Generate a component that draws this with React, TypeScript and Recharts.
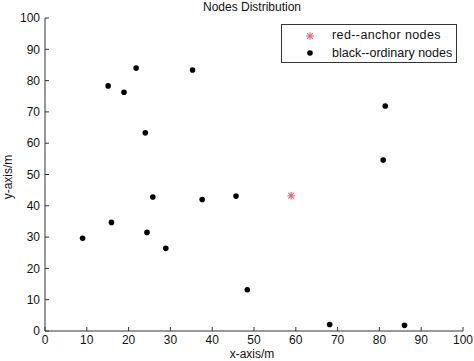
import React from 'react';
import { ScatterChart, Scatter, XAxis, YAxis } from 'recharts';

// node positions (metres)
const ordinaryX = [15.1, 18.9, 21.8, 35.3, 81.4, 24.0, 80.9, 25.8, 37.6, 45.7, 15.9, 24.4, 9.0, 28.9, 48.4, 68.1, 86.0];
const ordinaryY = [78.3, 76.3, 84.0, 83.4, 71.9, 63.3, 54.6, 42.8, 42.0, 43.1, 34.7, 31.5, 29.6, 26.4, 13.2, 2.1, 1.8];
const anchorX = [58.9];
const anchorY = [43.2];

const xTicks = [0, 10, 20, 30, 40, 50, 60, 70, 80, 90, 100];
const yTicks = [0, 10, 20, 30, 40, 50, 60, 70, 80, 90, 100];

const ordinary = ordinaryX.map((x, i) => ({ x, y: ordinaryY[i] }));
const anchors = anchorX.map((x, i) => ({ x, y: anchorY[i] }));

const font = '"Liberation Sans", Arial, sans-serif';
const frame = '#333';

const Dot = (p: any) => <circle cx={p.cx} cy={p.cy} r={2.8} fill="#000" />;

const Star = (p: any) => {
  const s = 3.8;
  const d = s * 0.75;
  return (
    <g stroke="#ee5a6e" strokeWidth={1.1}>
      <line x1={p.cx - s} y1={p.cy} x2={p.cx + s} y2={p.cy} />
      <line x1={p.cx} y1={p.cy - s} x2={p.cx} y2={p.cy + s} />
      <line x1={p.cx - d} y1={p.cy - d} x2={p.cx + d} y2={p.cy + d} />
      <line x1={p.cx - d} y1={p.cy + d} x2={p.cx + d} y2={p.cy - d} />
    </g>
  );
};

const LegendBox = () => (
  <div
    style={{
      position: 'absolute',
      left: 281,
      top: 24,
      width: 174,
      height: 37,
      border: `1px solid ${frame}`,
      background: '#fff',
      fontFamily: font,
      fontSize: 12.5,
      color: '#111',
    }}
  >
    <svg width={20} height={37} style={{ position: 'absolute', left: 18, top: 0 }}>
      <Star cx={10} cy={11} />
      <circle cx={10} cy={28} r={2.8} fill="#000" />
    </svg>
    <div style={{ position: 'absolute', left: 50, top: 3, letterSpacing: 0.4 }}>red--anchor nodes</div>
    <div style={{ position: 'absolute', left: 50, top: 21 }}>black--ordinary nodes</div>
  </div>
);

export default function App() {
  const tickStyle = { fontSize: 12, fill: '#111', fontFamily: font };
  return (
    <div style={{ position: 'absolute', left: 0, top: 0, width: 474, height: 361, background: '#fff', overflow: 'hidden' }}>
      <ScatterChart width={474} height={361} margin={{ top: 18, right: 11, bottom: 0, left: 0 }}>
        <XAxis
          dataKey="x"
          type="number"
          domain={[0, 100]}
          ticks={xTicks}
          height={30}
          tickSize={-4}
          tickMargin={8}
          tick={tickStyle}
          stroke={frame}
          interval={0}
        />
        <XAxis
          xAxisId="top"
          orientation="top"
          dataKey="x"
          type="number"
          domain={[0, 100]}
          ticks={xTicks}
          height={0}
          tickSize={-4}
          tick={false}
          stroke={frame}
        />
        <YAxis
          dataKey="y"
          type="number"
          domain={[0, 100]}
          ticks={yTicks}
          width={45}
          tickSize={-4}
          tickMargin={9}
          tick={tickStyle}
          stroke={frame}
          interval={0}
        />
        <YAxis
          yAxisId="right"
          orientation="right"
          dataKey="y"
          type="number"
          domain={[0, 100]}
          ticks={yTicks}
          width={0}
          tickSize={-4}
          tick={false}
          stroke={frame}
        />
        <Scatter name="ordinary" data={ordinary} shape={Dot} isAnimationActive={false} />
        <Scatter name="anchor" data={anchors} shape={Star} isAnimationActive={false} />
        <text x={252} y={11} textAnchor="middle" fontSize={12} fontFamily={font} fill="#111">
          Nodes Distribution
        </text>
        <text x={252} y={358} textAnchor="middle" fontSize={12} fontFamily={font} fill="#111">
          x-axis/m
        </text>
        <text
          x={12}
          y={177}
          textAnchor="middle"
          fontSize={12}
          fontFamily={font}
          fill="#111"
          transform="rotate(-90 12 177)"
        >
          y-axis/m
        </text>
      </ScatterChart>
      <LegendBox />
    </div>
  );
}
